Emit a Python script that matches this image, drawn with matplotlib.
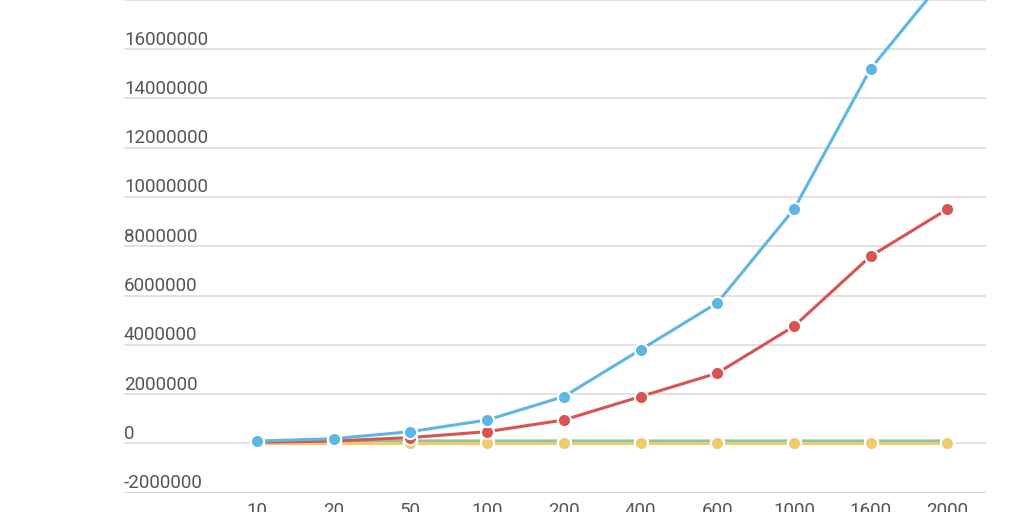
import matplotlib
matplotlib.use("Agg")
import matplotlib.pyplot as plt
import matplotlib.transforms as mtransforms

plt.rcParams['font.family'] = ['Roboto', 'DejaVu Sans']

categories = ['10', '20', '50', '100', '200', '400', '600', '1000', '1600', '2000']
blue_vals = [95000, 190000, 475000, 950000, 1900000, 3800000, 5700000, 9500000, 15200000, 19000000]
red_vals = [47500, 95000, 237500, 475000, 950000, 1900000, 2850000, 4750000, 7600000, 9500000]
green_vals = [20000, 45000, 100000, 100000, 100000, 100000, 100000, 100000, 100000, 100000]
yellow_vals = [10000, 10000, 10000, 10000, 10000, 10000, 10000, 10000, 10000, 10000]
y_ticks = [-2000000, 0, 2000000, 4000000, 6000000, 8000000, 10000000, 12000000, 14000000, 16000000, 18000000]
y_tick_labels = ['-2000000', '0', '2000000', '4000000', '6000000', '8000000',
                 '10000000', '12000000', '14000000', '16000000', '']

series = [
    (green_vals, '#8dc5a0'),
    (yellow_vals, '#f0cb6b'),
    (red_vals, '#da5353'),
    (blue_vals, '#5db6e4'),
]

W, H = 1024, 512
fig = plt.figure(figsize=(W / 100, H / 100), dpi=100)
left_px, right_px = 124, 985.7
top_px, bottom_px = -0.3, 492.7
ax = fig.add_axes([left_px / W, (H - bottom_px) / H,
                   (right_px - left_px) / W, (bottom_px - top_px) / H])
ax.set_facecolor('none')

x = list(range(len(categories)))
ax.set_xlim(-1.734, 9.5)
ax.set_ylim(-2000000, 18000000)

for s in ax.spines.values():
    s.set_visible(False)

for v in y_ticks:
    ax.axhline(v, color='#dddddd' if v != -2000000 else '#d0d0d0', lw=1.2, zorder=1)

ax.set_yticks([])
ax.set_xticks(x)
ax.set_xticklabels(categories, fontsize=13.5, color='#555555')
ax.tick_params(axis='x', length=0, pad=7)

trans = mtransforms.blended_transform_factory(ax.transAxes, ax.transData)
offset = mtransforms.ScaledTranslation(0, 4.5 / 100, fig.dpi_scale_trans)
for v, lab in zip(y_ticks, y_tick_labels):
    ax.text(0, v, lab, transform=trans + offset, ha='left', va='baseline',
            fontsize=13.5, color='#555555')

for vals, col in series:
    ax.plot(x, vals, color=col, lw=2.2, zorder=2, solid_capstyle='round')
for i, (vals, col) in enumerate(series):
    ax.plot(x, vals, ls='none', marker='o', markersize=9.5, markerfacecolor=col,
            markeredgecolor='white', markeredgewidth=1.5, zorder=3 + i)

fig.savefig('out.png', dpi=100)
